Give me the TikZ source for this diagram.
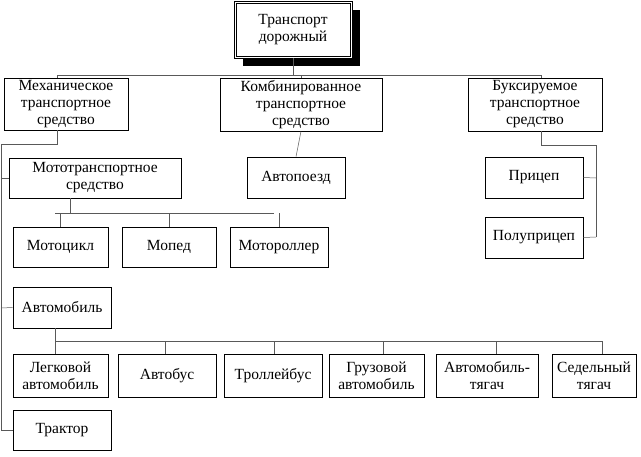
\documentclass[tikz,border=0pt]{standalone}
\usepackage{fontspec}
\setmainfont{Liberation Serif}
\usetikzlibrary{positioning}

\tikzset{
	box/.style={draw, line width=0.8pt, fill=white, align=center, inner sep=1pt,
		font=\fontsize{15.5}{17}\selectfont},
	link/.style={line width=0.5pt, gray!70!black}
}

\begin{document}
\begin{tikzpicture}[x=1pt, y=-1pt]

\path [use as bounding box] (0,0) rectangle (641,456);

% corner based boxes: #1 name, #2 x, #3 y, #4 w, #5 h, #6 text
\newcommand{\tbox}[6]{%
	\node [box, minimum width=#4pt, minimum height=#5pt] (#1)
		at (\fpeval{#2+#4/2},\fpeval{#3+#5/2}) {#6};%
}

% ROOT
\fill [black] (243,10) rectangle (360,66);
\tbox{root}{234}{1}{118}{57}{Транспорт\\дорожный}
\draw [line width=0.5pt] (236,3) rectangle (350,56);

% LEVEL 1
\tbox{mech}{4}{78}{124}{52}{Механическое\\транспортное\\средство}
\tbox{comb}{220}{78}{162}{53}{Комбинированное\\транспортное\\средство}
\tbox{tow}{468}{78}{134}{53}{Буксируемое\\транспортное\\средство}

% LEVEL 2
\tbox{moto}{9}{158}{172}{40}{Мототранспортное\\средство}
\tbox{train}{247}{157}{98}{41}{Автопоезд}
\tbox{trailer}{485}{157}{98}{41}{Прицеп}
\tbox{semi}{485}{217}{98}{41}{Полуприцеп}
\tbox{car}{13}{287}{98}{41}{Автомобиль}
\tbox{tractor}{13}{410}{98}{40}{Трактор}

% MOTO
\tbox{bike}{13}{227}{95}{40}{Мотоцикл}
\tbox{moped}{122}{227}{94}{40}{Мопед}
\tbox{scooter}{230}{227}{98}{40}{Мотороллер}

% CARS
\tbox{pass}{13}{354}{95}{43}{Легковой\\автомобиль}
\tbox{bus}{118}{354}{98}{43}{Автобус}
\tbox{troll}{224}{354}{98}{43}{Троллейбус}
\tbox{truck}{329}{354}{95}{43}{Грузовой\\автомобиль}
\tbox{tug}{436}{354}{102}{43}{Автомобиль-\\тягач}
\tbox{saddle}{552}{354}{84}{43}{Седельный\\тягач}

% LINKS
\coordinate (r1) at (294,75);
\draw [link] (root.south) -- (root.south |- r1);
\draw [link] (57,75) -- (541,75);
\draw [link] (57,75) -- (57,78);
\draw [link] (541,75) -- (541,78);
\draw [link] (comb.north |- r1) -- (comb.north);
\draw [link] (comb.south) -- (train.north);

\coordinate (m1) at (57,144);
\draw [link] (m1 |- mech.south) -- (m1) -- (1,144) -- (1,430);
\draw [link] (1,178) -- (moto.west);
\draw [link] (1,308) -- (car.west);
\draw [link] (1,430) -- (tractor.west);

\draw [link] (70,198) -- (70,213);
\draw [link] (55,213) -- (274,213);
\foreach \n in {bike, moped, scooter}
	\draw [link] (\n.north |- 0,213) -- (\n.north);

\draw [link] (541,131) -- (541,145) -- (596,145) -- (596,237);
\draw [link] (596,178) -- (trailer.east);
\draw [link] (596,237) -- (semi.east);

\draw [link] (55,328) -- (55,341) -- (602,341);
\foreach \n/\x in {pass/55, bus/165, troll/274, truck/383, tug/496, saddle/602}
	\draw [link] (\x,341) -- (\x,354);

\end{tikzpicture}
\end{document}
